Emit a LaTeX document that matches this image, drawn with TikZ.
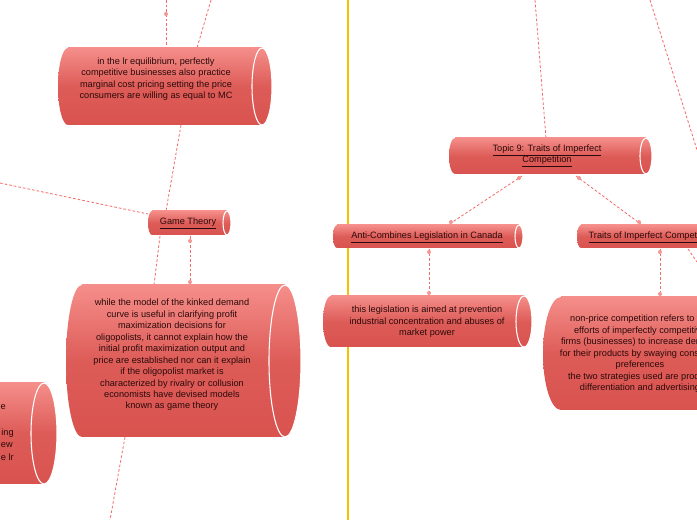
\documentclass[tikz,border=0pt]{standalone}
\usepackage{fontspec}
\setmainfont{Liberation Sans}
\definecolor{ctop}{HTML}{F58E8A}
\definecolor{cbot}{HTML}{D9534F}
\definecolor{lnk}{HTML}{F26B67}
\definecolor{txt}{HTML}{2A0A0A}
\definecolor{yl}{HTML}{F2C200}
\newcommand{\cyl}[5]{% x1 y1 x2 y2 rx
  \pgfmathsetmacro{\yc}{(#2+#4)/2}\pgfmathsetmacro{\ry}{(#4-#2)/2}
  \pgfmathsetmacro{\xl}{#1+#5}
  \begin{scope}
  \clip (#1,#2) rectangle (#3+#5+1,#4);
  \shade[top color=ctop,bottom color=cbot,middle color=cbot!85!ctop]
   (\xl,#2) rectangle (#3,#4);
  \shade[top color=ctop,bottom color=cbot,middle color=cbot!85!ctop]
   (\xl,\yc) ellipse [x radius=#5,y radius=\ry];
  \shade[top color=ctop,bottom color=cbot,middle color=cbot!85!ctop]
   (#3,\yc) ellipse [x radius=#5,y radius=\ry];
  \end{scope}
  \draw[white,line width=0.8pt] (#3,\yc) ellipse [x radius=#5,y radius=\ry];}
\tikzset{x=0.75pt,y=-0.75pt,
 t/.style={font=\fontsize{6.9}{8.6}\selectfont,text=txt,align=center},
 con/.style={lnk,dashed,dash pattern=on 2pt off 1.5pt,line width=0.6pt},
 dot/.style={circle,fill=lnk!70,inner sep=0pt,minimum size=3pt}}
\begin{document}
\begin{tikzpicture}
\useasboundingbox[fill=white] (0,0) rectangle (697,520);
\draw[yl,line width=0.8pt] (348,0) -- (348,520);
% connectors
\coordinate (t1) at (166,0); \coordinate (t2) at (211,0);
\coordinate (t3) at (535,0); \coordinate (t4) at (650,0);
\coordinate (l1) at (0,183); \coordinate (b1) at (110,520);
\draw[con] (t1) -- (166,48); \node[dot] at (166,14){};
\draw[con] (t2) -- (197,48);
\draw[con] (t3) -- (546,138); \draw[con] (t4) -- (697,150);
\draw[con] (181,125) -- (166,211);
\draw[con] (l1) -- (148,214);
\draw[con] (190,236) -- (190,285); \node[dot] at (190,241){}; \node[dot] at (190,282){};
\draw[con] (160,236) -- (154,285);
\draw[con] (125,437) -- (b1);
\draw[con] (522,176) -- (448,225); \node[dot] at (519,178){}; \node[dot] at (451,222){};
\draw[con] (576,176) -- (642,225); \node[dot] at (579,178){}; \node[dot] at (639,222){};
\draw[con] (429,249) -- (429,296); \node[dot] at (429,252){}; \node[dot] at (429,293){};
\draw[con] (660,249) -- (660,297); \node[dot] at (660,252){}; \node[dot] at (660,294){};
\draw[con] (688,249) -- (697,262);
% cylinders
\cyl{58}{48}{262}{125}{10}
\cyl{148}{211}{227}{235}{4}
\cyl{66}{285}{285}{437}{16}
\cyl{-60}{383}{44}{484}{13}
\cyl{449}{138}{646}{174}{6}
\cyl{333}{225}{519}{248}{4}
\cyl{577}{225}{740}{248}{4}
\cyl{323}{296}{524}{347}{8}
\cyl{543}{297}{760}{410}{18}
% texts
\node[t] (n1) at (156,79) {in the lr equilibrium, perfectly\\competitive businesses also practice\\marginal cost pricing setting the price\\consumers are willing as equal to MC};
\node[t] (gt) at (188,223) {\underline{Game Theory}};
\node[t] (kk) at (172,355) {while the model of the kinked demand\\curve is useful in clarifying profit\\maximization decisions for\\oligopolists, it cannot explain how the\\initial profit maximization output and\\price are established nor can it explain\\if the oligopolist market is\\characterized by rivalry or collusion\\economists have devised models\\known as game theory};
\node[t,anchor=east,inner sep=0pt] (lc1) at (6,407) {e};
\node[t,anchor=east,inner sep=0pt] (lc2) at (14,433) {ing};
\node[t,anchor=east,inner sep=0pt] (lc3) at (13,445) {ew};
\node[t,anchor=east,inner sep=0pt] (lc4) at (14,457) {e lr};
\node[t,align=center] (tp) at (547,156) {\underline{Topic 9: Traits of Imperfect}\\\underline{Competition}};
\node[t] (ac) at (427,237) {\underline{Anti-Combines Legislation in Canada}};
\node[t,anchor=west] (tr) at (584,237) {\underline{Traits of Imperfect Competition}};
\node[t] (lg) at (427,322) {this legislation is aimed at prevention\\industrial concentration and abuses of\\market power};
\node[t] (np) at (640,354) {non-price competition refers to the\\efforts of imperfectly competitive\\firms (businesses) to increase demand\\for their products by swaying consumer\\preferences\\the two strategies used are product\\differentiation and advertising};
\end{tikzpicture}
\end{document}
